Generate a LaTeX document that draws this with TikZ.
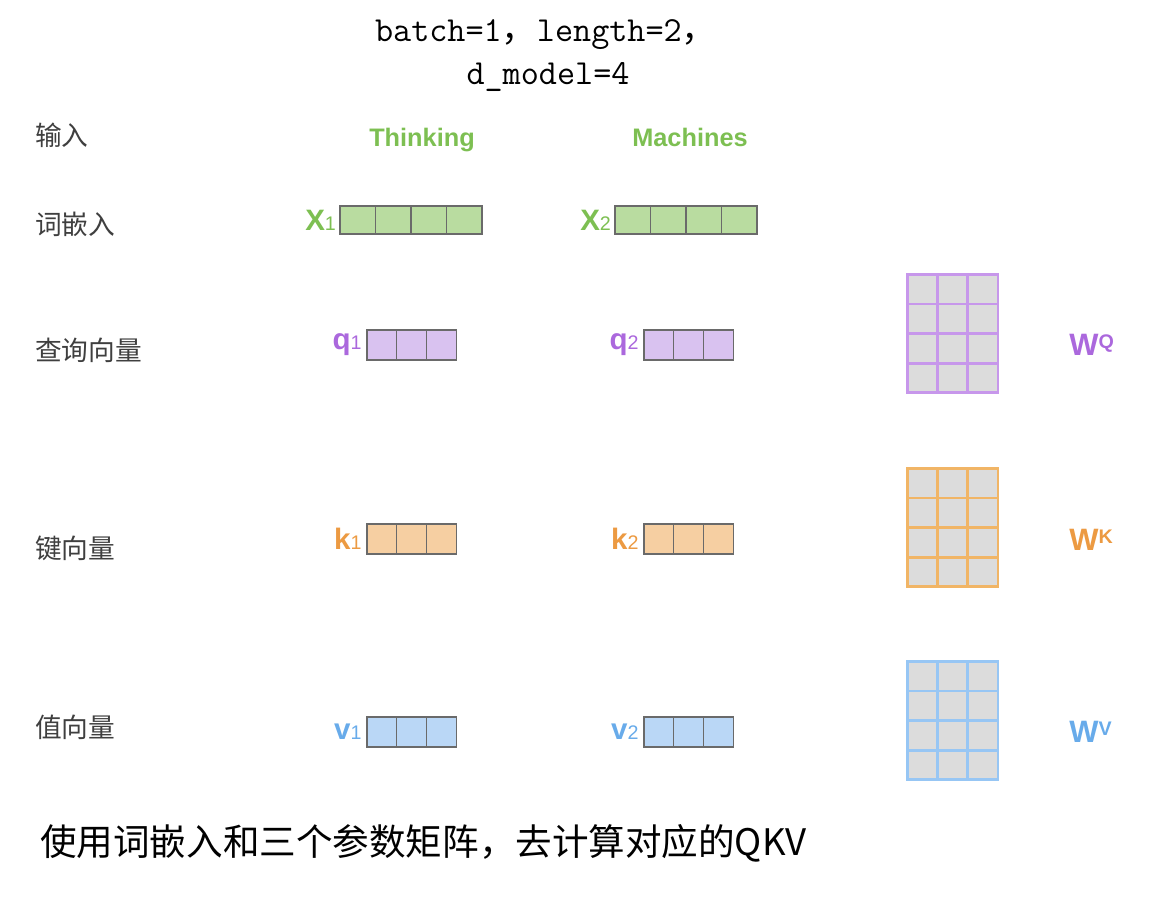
\documentclass[tikz,border=0pt]{standalone}
\usepackage{fontspec}
\setsansfont{Liberation Sans}
\newfontfamily\cjk{Noto Sans CJK SC}
\usepackage{xcolor}
\usetikzlibrary{positioning, matrix}
\definecolor{xgreen}{HTML}{7DBF52}
\definecolor{xfill}{HTML}{B9DCA0}
\definecolor{qpurple}{HTML}{AB68DD}
\definecolor{qfill}{HTML}{D9C2F0}
\definecolor{qline}{HTML}{C797EB}
\definecolor{korange}{HTML}{EC9A42}
\definecolor{kfill}{HTML}{F6CFA2}
\definecolor{kline}{HTML}{F1B566}
\definecolor{vblue}{HTML}{68ABEA}
\definecolor{vfill}{HTML}{BAD7F6}
\definecolor{vline}{HTML}{97C6F4}
\definecolor{cellgray}{HTML}{DCDCDC}
\definecolor{edgegray}{HTML}{6A6A6A}
\definecolor{rowgray}{HTML}{3F3F3F}
\newcommand{\subidx}[1]{{\fontsize{14}{14}\selectfont\mdseries #1}}
\newcommand{\supidx}[1]{\raisebox{5pt}{\fontsize{14}{14}\selectfont #1}}

\begin{document}
\begin{tikzpicture}[
    x=0.025cm, y=-0.025cm,
    heading/.style={anchor=base, inner sep=0pt, font=\ttfamily\fontsize{25}{30}\selectfont},
    rowname/.style={anchor=west, inner sep=0pt, text=rowgray, font=\cjk\fontsize{19}{19}\selectfont},
    word/.style={anchor=base, inner sep=0pt, text=xgreen, font=\sffamily\bfseries\fontsize{18}{18}\selectfont},
    wordvec/.style={matrix of nodes, nodes in empty cells, anchor=west, inner sep=0pt, outer sep=0pt, column sep=-1.1pt, nodes={rectangle, inner sep=0pt, outer sep=0pt, minimum width=0.89cm, minimum height=0.713cm, draw=edgegray, line width=1.1pt, fill=xfill}},
    qkvvec/.style={wordvec, nodes={minimum width=0.746cm, minimum height=0.75cm}},
    veclabel/.style={inner sep=0pt, font=\sffamily\bfseries\fontsize{21}{21}\selectfont},
    wmat/.style={matrix of nodes, nodes in empty cells, anchor=north west, inner sep=0pt, outer sep=0pt, column sep=-2pt, row sep=-2pt, nodes={rectangle, inner sep=0pt, outer sep=0pt, minimum width=0.754cm, minimum height=0.74cm, fill=cellgray, line width=2pt}},
    wname/.style={anchor=west, inner sep=0pt, font=\sffamily\bfseries\fontsize{22}{22}\selectfont},
    summary/.style={anchor=west, inner sep=0pt, font=\cjk\fontsize{26}{26}\selectfont}
]
\useasboundingbox (0,0) rectangle (1154,905);

% Title
\node[heading] (head1) at (546,42) {batch=1{\cjk ，}length=2{\cjk ，}};
\node[heading] (head2) at (548,85) {d\_model=4};

% Row names
\node[rowname] (rinput) at (35,135) {输入};
\node[rowname] (rembed) at (35,224) {词嵌入};
\node[rowname] (rquery) at (35,350) {查询向量};
\node[rowname] (rkey) at (35,548) {键向量};
\node[rowname] (rvalue) at (35,727) {值向量};

% Input words
\node[word] (thinking) at (422,147) {Thinking};
\node[word] (machines) at (690,147) {Machines};

% Word embeddings
\matrix[wordvec] (x1) at (339,220) {&&&\\};
\matrix[wordvec] (x2) at (614,220) {&&&\\};
\node[veclabel, text=xgreen, left=2pt of x1] (x1name) {X\subidx{1}};
\node[veclabel, text=xgreen, left=2pt of x2] (x2name) {X\subidx{2}};

% Queries
\matrix[qkvvec, nodes={fill=qfill}] (q1) at (366,345) {&&\\};
\matrix[qkvvec, nodes={fill=qfill}] (q2) at (643,345) {&&\\};
\node[veclabel, text=qpurple, left=3pt of q1] (q1name) {q\subidx{1}};
\node[veclabel, text=qpurple, left=3pt of q2] (q2name) {q\subidx{2}};

% Keys
\matrix[qkvvec, nodes={fill=kfill}] (k1) at (366,539) {&&\\};
\matrix[qkvvec, nodes={fill=kfill}] (k2) at (643,539) {&&\\};
\node[veclabel, text=korange, left=3pt of k1] (k1name) {k\subidx{1}};
\node[veclabel, text=korange, left=3pt of k2] (k2name) {k\subidx{2}};

% Values
\matrix[qkvvec, nodes={fill=vfill}] (v1) at (366,732) {&&\\};
\matrix[qkvvec, nodes={fill=vfill}] (v2) at (643,732) {&&\\};
\node[veclabel, text=vblue, left=3pt of v1] (v1name) {v\subidx{1}};
\node[veclabel, text=vblue, left=3pt of v2] (v2name) {v\subidx{2}};

% Weight matrices
\matrix[wmat, nodes={draw=qline}] (wq) at (906,273) {&&\\&&\\&&\\&&\\};
\matrix[wmat, nodes={draw=kline}] (wk) at (906,467) {&&\\&&\\&&\\&&\\};
\matrix[wmat, nodes={draw=vline}] (wv) at (906,660) {&&\\&&\\&&\\&&\\};
\node[wname, text=qpurple] (wqname) at (1069,345) {W\supidx{Q}};
\node[wname, text=korange] (wkname) at (1069,540) {W\supidx{K}};
\node[wname, text=vblue] (wvname) at (1069,732) {W\supidx{V}};

% Caption
\node[summary] (note) at (40,843) {使用词嵌入和三个参数矩阵，去计算对应的QKV};

\end{tikzpicture}
\end{document}
